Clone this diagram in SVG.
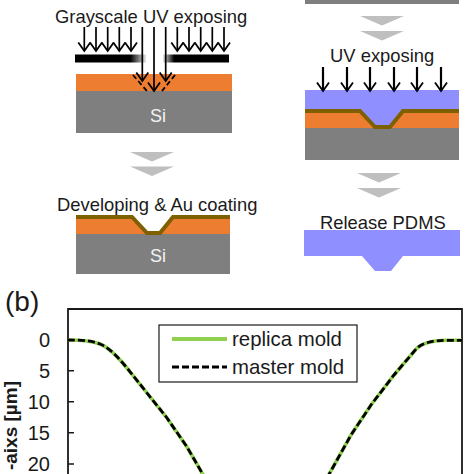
<svg xmlns="http://www.w3.org/2000/svg" width="474" height="474" viewBox="0 0 474 474">
  <style>
    text { font-family: "Liberation Sans", Arial, sans-serif; fill: #1a1a1a; }
    .step { font-size: 18.4px; }
    .si { font-size: 18px; fill: #f2f2f2; text-anchor: middle; }
    .tick { font-size: 20px; text-anchor: end; }
    .legend { font-size: 20.4px; }
    .si-layer { fill: #7f7f7f; }
    .resist { fill: #ed7d31; }
    .pdms { fill: #8f8fff; }
    .gold { fill: none; stroke: #7f6000; stroke-width: 4; }
    .chevron { fill: #bfbfbf; }
    .ray { fill: none; stroke: #000; stroke-width: 1.7; marker-end: url(#head); }
    .ray-bold { fill: none; stroke: #000; stroke-width: 2.2; marker-end: url(#head); }
    .frame { fill: none; stroke: #1a1a1a; stroke-width: 1.8; }
    .axis { fill: none; stroke: #1a1a1a; stroke-width: 1.5; }
  </style>
  <defs>
    <marker id="head" markerUnits="userSpaceOnUse" markerWidth="16" markerHeight="14" refX="11" refY="7" orient="auto" overflow="visible">
      <path d="M2.5 1 L11 7 L2.5 13" fill="none" stroke="#000" stroke-width="1.8"/>
    </marker>
    <linearGradient id="fadeRight" x1="0" y1="0" x2="1" y2="0">
      <stop offset="0" stop-color="#000"/>
      <stop offset="0.78" stop-color="#000"/>
      <stop offset="1" stop-color="#000" stop-opacity="0.1"/>
    </linearGradient>
    <linearGradient id="fadeLeft" x1="1" y1="0" x2="0" y2="0">
      <stop offset="0" stop-color="#000"/>
      <stop offset="0.83" stop-color="#000"/>
      <stop offset="1" stop-color="#000" stop-opacity="0.1"/>
    </linearGradient>
    <polygon id="chev" class="chevron" points="0,0 44,0 22,9.5"/>
  </defs>

  <!-- Grayscale exposure through the mask -->
  <g id="step-grayscale">
    <text class="step" x="55" y="23">Grayscale UV exposing</text>
    <rect x="75" y="54.5" width="71" height="8" fill="url(#fadeRight)"/>
    <rect x="163" y="54.5" width="66" height="8" fill="url(#fadeLeft)"/>
    <rect class="resist" x="76" y="74" width="156" height="17"/>
    <rect class="si-layer" x="76" y="91" width="156" height="42"/>
    <text class="si" x="158" y="122">Si</text>
    <path d="M133 75 L147 91 M175 75 L162 91" fill="none" stroke="#000" stroke-width="1.8" stroke-dasharray="5 3"/>
    <path class="ray" d="M84.3 27 V51"/>
    <path class="ray" d="M96 27 V51"/>
    <path class="ray" d="M107.7 27 V51"/>
    <path class="ray" d="M119.3 27 V51"/>
    <path class="ray" d="M131 27 V51"/>
    <path class="ray" d="M177.3 27 V51"/>
    <path class="ray" d="M189 27 V51"/>
    <path class="ray" d="M200.7 27 V51"/>
    <path class="ray" d="M212.3 27 V51"/>
    <path class="ray" d="M224 27 V51"/>
    <path class="ray" d="M142.3 27 V81"/>
    <path class="ray" d="M154 27 V91"/>
    <path class="ray" d="M165.7 27 V81"/>
  </g>

  <use href="#chev" x="130" y="152"/>
  <use href="#chev" x="130" y="166.500"/>

  <!-- Developed resist with gold layer -->
  <g id="step-developing">
    <text class="step" x="57" y="211">Developing &amp; Au coating</text>
    <polygon class="resist" points="76,217 132,217 147,234 160,234 173,217 230,217 230,234 76,234"/>
    <rect class="si-layer" x="76" y="234" width="154" height="40"/>
    <path class="gold" d="M76 217 H132 L147 233 H160 L173 217 H230"/>
    <text class="si" x="158" y="262">Si</text>
  </g>

  <!-- Silicon left over from the stack above -->
  <rect id="step-pdms-pour" class="si-layer" x="305" y="0" width="154" height="4"/>

  <use href="#chev" x="360" y="16"/>
  <use href="#chev" x="360" y="31"/>

  <!-- UV curing of the PDMS -->
  <g id="step-uv">
    <text class="step" x="330" y="62">UV exposing</text>
    <rect class="si-layer" x="305" y="128" width="154" height="32"/>
    <rect class="resist" x="305" y="111" width="154" height="17"/>
    <polygon class="pdms" points="305,90 459,90 459,111 403,111 390,127 375,127 360,111 305,111"/>
    <path class="gold" d="M305 111 H360 L375 127 H390 L403 111 H459"/>
    <path class="ray-bold" d="M323 67 V91"/>
    <path class="ray-bold" d="M347 67 V91"/>
    <path class="ray-bold" d="M370 67 V91"/>
    <path class="ray-bold" d="M394 67 V91"/>
    <path class="ray-bold" d="M417 67 V91"/>
    <path class="ray-bold" d="M441 67 V91"/>
  </g>

  <use href="#chev" x="357" y="173"/>
  <use href="#chev" x="357" y="188"/>

  <!-- Released PDMS replica -->
  <g id="step-release">
    <text class="step" x="320" y="229">Release PDMS</text>
    <polygon class="pdms" points="304,230 460,230 460,256 403,256 391,271 375,271 362,256 304,256"/>
  </g>

  <!-- Profile chart -->
  <g id="chart">
    <text x="5" y="311" font-size="28">(b)</text>
    <path class="frame" d="M68 474 V309 H462 V474"/>
    <path class="axis" d="M68 340 H74 M68 370.700 H74 M68 401.700 H74 M68 432.700 H74 M68 464 H74"/>
    <text class="tick" x="50" y="347">0</text>
    <text class="tick" x="50" y="378">5</text>
    <text class="tick" x="50" y="409">10</text>
    <text class="tick" x="50" y="440">15</text>
    <text class="tick" x="50" y="471">20</text>
    <text transform="translate(16.500 381) rotate(-90)" text-anchor="end" font-size="19" font-weight="bold">-aixs [µm]</text>
    <path id="curve-replica" fill="none" stroke="#92d050" stroke-width="3.6" d="M68 340 C78 340 90 340 100 344 C109 347.500 118 357 127 368 L147 393 L167 418 L187 447 L205 478 M327 478 L351 435 L371 405 L394 375 L417 348 C423 343 431 340.500 447 340.300 H462"/>
    <path id="curve-master" fill="none" stroke="#000" stroke-width="2.800" stroke-dasharray="7 3" d="M68 340 C78 340 90 340 100 344 C109 347.500 118 357 127 368 L147 393 L167 418 L187 447 L205 478 M327 478 L351 435 L371 405 L394 375 L417 348 C423 343 431 340.500 447 340.300 H462"/>
    <rect x="159" y="325" width="198" height="57" fill="#fff" stroke="#1a1a1a" stroke-width="1.2"/>
    <path d="M172 339 H227" stroke="#92d050" stroke-width="3.800" fill="none"/>
    <path d="M172 367 H227" stroke="#000" stroke-width="2.800" stroke-dasharray="7 3" fill="none"/>
    <text class="legend" x="232" y="346">replica mold</text>
    <text class="legend" x="232" y="374">master mold</text>
  </g>
</svg>
